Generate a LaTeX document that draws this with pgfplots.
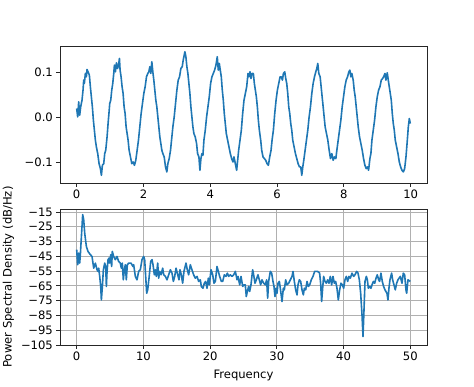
\documentclass[border=0pt]{standalone}
\usepackage{fontspec}
\setmainfont{DejaVu Sans}
\usepackage{pgfplots}
\pgfplotsset{compat=1.18}
\definecolor{mplblue}{HTML}{1F77B4}
\definecolor{mplgrid}{HTML}{B0B0B0}
\begin{document}
\begin{tikzpicture}
\path[use as bounding box] (0,0) rectangle (474pt,387pt);
\pgfplotsset{
  mpl/.style={
    scale only axis, width=367pt,
    font=\fontsize{11.6}{13.5}\selectfont,
    tick label style={font=\fontsize{11.6}{13.5}\selectfont},
    axis line style={line width=0.82pt, color=black!85},
    tick align=outside, tick pos=lower,
    major tick length=3.6pt,
    every tick/.style={line width=0.82pt, black!85},
    /pgf/number format/assume math mode=true,
  }
}
\begin{axis}[mpl, at={(60pt,204pt)}, anchor=south west, height=137pt,
  xmin=-0.4995, xmax=10.4895, ymin=-0.146, ymax=0.158,
  xtick={0,2,4,6,8,10}, xticklabels={0,2,4,6,8,10},
  ytick={-0.1,0,0.1}, yticklabels={−0.1,0.0,0.1}]
\addplot[mplblue, line width=1.6pt, line join=round] coordinates {
(0,0.0193) (0.03,0.0007) (0.06,0.0341) (0.09,0.0044) (0.12,0.0230) (0.16,0.0378) (0.19,0.0600) (0.21,0.0822) (0.23,0.0748) (0.26,0.0970) (0.29,0.0896) (0.31,0.1059) (0.34,0.1007) (0.38,0.0933) (0.41,0.0674) (0.44,0.0452) (0.47,0.0230) (0.50,-0.0067) (0.53,-0.0289) (0.56,-0.0511) (0.59,-0.0659) (0.63,-0.0807) (0.67,-0.1030) (0.71,-0.1141) (0.74,-0.1289) (0.77,-0.1067) (0.81,-0.1030) (0.84,-0.0807) (0.87,-0.0733) (0.91,-0.0437) (0.94,-0.0141) (0.97,0.0119) (0.99,0.0304) (1.02,0.0378) (1.05,0.0600) (1.08,0.0748) (1.11,0.0970) (1.13,0.1156) (1.16,0.1007) (1.19,0.1207) (1.22,0.1081) (1.25,0.1133) (1.28,0.1304) (1.30,0.1044) (1.33,0.0896) (1.36,0.0674) (1.39,0.0526) (1.42,0.0230) (1.45,0.0081) (1.48,-0.0215) (1.51,-0.0363) (1.54,-0.0511) (1.57,-0.0733) (1.61,-0.0881) (1.65,-0.1030) (1.69,-0.0993) (1.73,-0.1067) (1.77,-0.0956) (1.81,-0.0733) (1.85,-0.0511) (1.89,-0.0215) (1.93,0.0081) (1.97,0.0304) (2.01,0.0526) (2.05,0.0674) (2.09,0.0896) (2.13,0.0970) (2.16,0.1007) (2.19,0.1119) (2.22,0.0970) (2.25,0.1230) (2.28,0.1007) (2.31,0.0822) (2.34,0.0600) (2.37,0.0378) (2.40,0.0230) (2.43,0.0007) (2.46,-0.0215) (2.49,-0.0437) (2.52,-0.0585) (2.55,-0.0733) (2.58,-0.0807) (2.62,-0.0881) (2.66,-0.1104) (2.70,-0.1215) (2.73,-0.1030) (2.77,-0.0919) (2.81,-0.0733) (2.84,-0.0511) (2.88,-0.0215) (2.92,0.0007) (2.96,0.0304) (3.00,0.0600) (3.04,0.0822) (3.08,0.0896) (3.12,0.1081) (3.16,0.1119) (3.19,0.1267) (3.22,0.1378) (3.24,0.1452) (3.27,0.1341) (3.30,0.1119) (3.33,0.0970) (3.36,0.0748) (3.39,0.0526) (3.42,0.0230) (3.45,0.0007) (3.48,-0.0215) (3.51,-0.0363) (3.55,-0.0437) (3.59,-0.0585) (3.62,-0.0807) (3.66,-0.0881) (3.69,-0.1178) (3.72,-0.0919) (3.75,-0.0807) (3.78,-0.0844) (3.81,-0.0511) (3.85,-0.0289) (3.89,0.0007) (3.93,0.0230) (3.97,0.0452) (4.01,0.0748) (4.05,0.0896) (4.09,0.0970) (4.13,0.1044) (4.17,0.1156) (4.21,0.1341) (4.24,0.1044) (4.27,0.1193) (4.30,0.1044) (4.33,0.0896) (4.36,0.0600) (4.39,0.0378) (4.42,0.0081) (4.45,-0.0141) (4.48,-0.0363) (4.52,-0.0511) (4.56,-0.0659) (4.60,-0.0807) (4.64,-0.0919) (4.68,-0.0993) (4.71,-0.0881) (4.75,-0.1030) (4.79,-0.1178) (4.82,-0.0956) (4.85,-0.0733) (4.89,-0.0511) (4.93,-0.0289) (4.97,0.0081) (5.01,0.0378) (5.05,0.0526) (5.09,0.0674) (5.13,0.0970) (5.16,0.0896) (5.19,0.1007) (5.22,0.0859) (5.25,0.0970) (5.29,0.0970) (5.32,0.0748) (5.35,0.0600) (5.38,0.0452) (5.41,0.0230) (5.44,-0.0067) (5.47,-0.0289) (5.51,-0.0511) (5.54,-0.0733) (5.58,-0.0881) (5.62,-0.0919) (5.66,-0.0956) (5.70,-0.1030) (5.74,-0.1067) (5.78,-0.0881) (5.82,-0.0733) (5.85,-0.0511) (5.89,-0.0289) (5.93,0.0081) (5.97,0.0378) (6.01,0.0600) (6.05,0.0748) (6.09,0.0896) (6.13,0.0896) (6.16,0.0822) (6.19,0.0970) (6.23,0.1007) (6.26,0.0859) (6.29,0.0748) (6.32,0.0526) (6.35,0.0230) (6.38,0.0081) (6.41,-0.0141) (6.44,-0.0289) (6.47,-0.0511) (6.51,-0.0659) (6.55,-0.0807) (6.59,-0.0919) (6.63,-0.1030) (6.67,-0.1104) (6.71,-0.1104) (6.74,-0.1289) (6.77,-0.1104) (6.80,-0.0956) (6.84,-0.0733) (6.88,-0.0511) (6.92,-0.0289) (6.96,0.0007) (7.00,0.0230) (7.04,0.0526) (7.08,0.0748) (7.12,0.0896) (7.16,0.1007) (7.19,0.1081) (7.22,0.1193) (7.25,0.0970) (7.29,0.0896) (7.32,0.0674) (7.35,0.0452) (7.38,0.0230) (7.41,0.0007) (7.44,-0.0215) (7.48,-0.0363) (7.52,-0.0511) (7.56,-0.0733) (7.60,-0.0919) (7.64,-0.0807) (7.68,-0.0956) (7.72,-0.0881) (7.76,-0.0919) (7.79,-0.0733) (7.83,-0.0511) (7.87,-0.0289) (7.91,-0.0067) (7.95,0.0230) (7.99,0.0452) (8.03,0.0674) (8.07,0.0822) (8.11,0.0896) (8.15,0.1007) (8.18,0.1044) (8.21,0.0896) (8.24,0.0970) (8.28,0.0822) (8.31,0.0600) (8.34,0.0452) (8.37,0.0230) (8.40,0.0007) (8.43,-0.0215) (8.47,-0.0437) (8.51,-0.0585) (8.55,-0.0733) (8.59,-0.0919) (8.63,-0.1067) (8.67,-0.1141) (8.71,-0.1104) (8.74,-0.1178) (8.78,-0.0919) (8.81,-0.0807) (8.84,-0.0511) (8.88,-0.0289) (8.92,-0.0067) (8.96,0.0230) (9.00,0.0452) (9.04,0.0600) (9.08,0.0674) (9.12,0.0822) (9.16,0.0859) (9.19,0.0896) (9.23,0.0970) (9.26,0.0822) (9.30,0.0985) (9.33,0.0822) (9.36,0.0674) (9.39,0.0526) (9.42,0.0378) (9.45,0.0081) (9.48,-0.0141) (9.51,-0.0289) (9.54,-0.0511) (9.58,-0.0659) (9.62,-0.0807) (9.66,-0.0993) (9.70,-0.1104) (9.74,-0.1178) (9.78,-0.1215) (9.82,-0.1141) (9.86,-0.0881) (9.90,-0.0511) (9.93,-0.0215) (9.96,-0.0030) (9.99,-0.0141)
};
\end{axis}
\begin{axis}[mpl, at={(60pt,42pt)}, anchor=south west, height=136pt,
  xmin=-2.5, xmax=52.5, ymin=-105, ymax=-13,
  xtick={0,10,20,30,40,50}, xticklabels={0,10,20,30,40,50},
  ytick={-105,-95,-85,-75,-65,-55,-45,-35,-25,-15},
  yticklabels={−105,−95,−85,−75,−65,−55,−45,−35,−25,−15},
  grid=major, major grid style={line width=0.82pt, color=mplgrid},
  xlabel={Frequency}, ylabel={Power Spectral Density (dB/Hz)},
  xlabel style={yshift=-2pt}]
\addplot[mplblue, line width=1.6pt, line join=round] coordinates {
(0,-40.5) (0.15,-50.7) (0.30,-42.8) (0.45,-49.6) (0.55,-43.9) (0.90,-16.8) (1.05,-20.2) (1.20,-29.2) (1.45,-38.3) (1.70,-41.7) (2.05,-43.9) (2.30,-45.1) (2.55,-53.0) (2.80,-49.6) (3.05,-54.1) (3.20,-55.2) (3.30,-53.0) (3.45,-58.6) (3.60,-65.4) (3.70,-74.5) (3.85,-65.4) (4.00,-54.1) (4.20,-49.6) (4.35,-51.9) (4.45,-65.4) (4.55,-55.2) (4.70,-47.3) (4.85,-46.2) (4.95,-49.6) (5.10,-43.9) (5.24,-51.9) (5.34,-41.7) (5.54,-45.1) (5.79,-47.3) (6.04,-45.1) (6.29,-48.5) (6.54,-49.6) (6.69,-53.0) (6.84,-49.6) (6.99,-60.9) (7.14,-54.1) (7.29,-50.7) (7.44,-60.9) (7.59,-50.7) (7.79,-49.6) (8.14,-49.6) (8.44,-51.9) (8.54,-50.7) (8.79,-58.6) (9.04,-60.9) (9.29,-55.2) (9.54,-54.1) (9.79,-47.3) (10.04,-45.1) (10.19,-47.3) (10.34,-58.6) (10.49,-70.0) (10.64,-67.7) (10.84,-59.8) (11.09,-48.5) (11.29,-47.3) (11.44,-50.7) (11.64,-57.5) (11.79,-54.1) (11.94,-58.6) (12.14,-49.6) (12.29,-59.8) (12.44,-55.2) (12.64,-57.5) (12.89,-53.0) (13.04,-57.5) (13.29,-58.6) (13.54,-60.9) (13.79,-57.5) (14.04,-54.1) (14.29,-56.4) (14.49,-62.0) (14.69,-58.6) (14.89,-53.0) (15.08,-56.4) (15.33,-60.9) (15.48,-54.1) (15.68,-57.5) (15.88,-63.2) (16.08,-55.2) (16.38,-49.6) (16.58,-54.1) (16.78,-57.5) (17.03,-50.7) (17.28,-54.1) (17.53,-57.5) (17.78,-59.8) (18.03,-58.6) (18.28,-62.0) (18.53,-60.9) (18.68,-65.4) (18.93,-66.6) (19.13,-63.2) (19.33,-62.0) (19.53,-66.6) (19.73,-59.8) (19.88,-64.3) (20.13,-54.1) (20.38,-57.5) (20.58,-63.2) (20.78,-62.0) (21.03,-51.9) (21.23,-55.2) (21.43,-58.6) (21.68,-62.0) (21.88,-62.0) (22.13,-57.5) (22.38,-58.6) (22.58,-56.4) (22.78,-58.6) (23.03,-57.5) (23.28,-58.6) (23.53,-57.5) (23.78,-55.2) (24.03,-60.9) (24.18,-58.6) (24.43,-64.3) (24.63,-58.6) (24.88,-65.4) (25.07,-64.3) (25.27,-64.3) (25.42,-72.2) (25.57,-68.8) (25.77,-65.4) (25.92,-68.8) (26.12,-64.3) (26.37,-54.1) (26.52,-57.5) (26.72,-63.2) (26.92,-60.9) (27.17,-57.5) (27.37,-60.9) (27.57,-64.3) (27.77,-60.9) (28.02,-63.2) (28.27,-64.3) (28.47,-60.9) (28.62,-73.3) (28.77,-62.0) (29.02,-55.2) (29.22,-56.4) (29.42,-62.0) (29.57,-65.4) (29.72,-72.2) (29.87,-66.6) (30.02,-70.0) (30.17,-63.2) (30.37,-62.0) (30.52,-66.6) (30.77,-75.6) (30.97,-66.6) (31.12,-67.7) (31.32,-60.9) (31.52,-64.3) (31.77,-63.2) (32.02,-60.9) (32.27,-58.6) (32.42,-55.2) (32.62,-62.0) (32.82,-67.7) (33.02,-71.1) (33.17,-64.3) (33.37,-60.9) (33.57,-62.0) (33.77,-67.7) (33.97,-71.1) (34.12,-66.6) (34.32,-67.7) (34.52,-62.0) (34.72,-65.4) (34.92,-64.3) (35.16,-60.9) (35.41,-58.6) (35.66,-55.2) (36.11,-55.2) (36.41,-56.4) (36.56,-63.2) (36.71,-75.6) (36.86,-66.6) (37.01,-58.6) (37.21,-62.0) (37.41,-63.2) (37.61,-60.9) (37.81,-63.2) (38.01,-58.6) (38.21,-64.3) (38.41,-58.6) (38.61,-63.2) (38.81,-62.0) (39.01,-66.6) (39.21,-74.5) (39.41,-67.7) (39.61,-63.2) (39.81,-64.3) (40.01,-66.6) (40.21,-60.9) (40.41,-58.6) (40.61,-62.0) (40.81,-58.6) (41.01,-59.8) (41.26,-56.4) (41.51,-58.6) (41.71,-57.5) (41.96,-55.2) (42.16,-56.4) (42.36,-60.9) (42.56,-70.0) (42.76,-84.6) (42.91,-99.3) (43.06,-81.2) (43.21,-62.0) (43.41,-58.6) (43.56,-60.9) (43.71,-66.6) (43.91,-65.4) (44.11,-66.6) (44.26,-64.3) (44.46,-62.0) (44.66,-63.2) (44.86,-59.8) (45.05,-57.5) (45.25,-60.9) (45.40,-62.0) (45.60,-56.4) (45.80,-62.0) (46.00,-65.4) (46.20,-67.7) (46.50,-70.0) (46.65,-74.5) (46.80,-66.6) (46.95,-60.9) (47.20,-56.4) (47.35,-60.9) (47.55,-64.3) (47.75,-67.7) (47.95,-63.2) (48.15,-60.9) (48.50,-58.6) (48.75,-63.2) (48.95,-56.4) (49.15,-57.5) (49.35,-67.7) (49.45,-70.0) (49.65,-60.9) (50.00,-62.0)
};
\end{axis}
\end{tikzpicture}
\end{document}
